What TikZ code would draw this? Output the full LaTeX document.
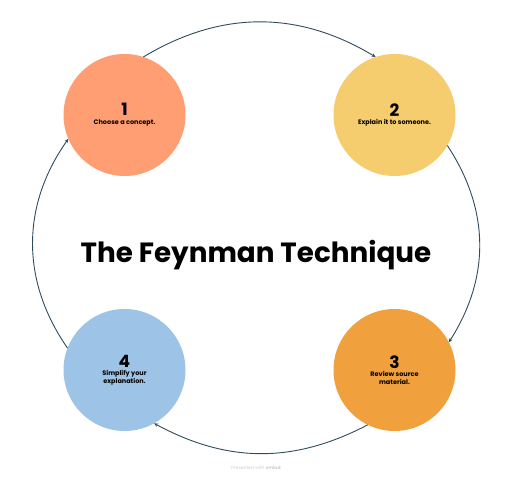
\documentclass[tikz,border=0pt]{standalone}
\usepackage{fontspec}
\setmainfont{Poppins}
\usetikzlibrary{positioning}
\usetikzlibrary{arrows.meta}
\definecolor{stepone}{HTML}{FF9E72}
\definecolor{steptwo}{HTML}{F5CD6E}
\definecolor{stepthree}{HTML}{F0A03C}
\definecolor{stepfour}{HTML}{9DC3E6}
\definecolor{arcline}{HTML}{2F4B5C}
\tikzset{x=1pt, y=1pt, node distance=148pt, >={Stealth[length=4pt,width=3.5pt]}}
\tikzset{stepnode/.style={circle, minimum size=122pt, inner sep=0pt, outer sep=0pt, align=center, font=\fontsize{6.5}{7.7}\selectfont\bfseries}}
\tikzset{flow/.style={draw=arcline, line width=0.9pt, ->}}
\newcommand{\stepnum}[1]{{\fontsize{17}{17}\selectfont\bfseries #1}\\[1pt]}

\begin{document}
\begin{tikzpicture}
    \useasboundingbox (0,0) rectangle (512,478);
    \node [stepnode, fill=stepone] (c1) at (124.5,363) {\stepnum{1}Choose a concept.};
    \node [stepnode, fill=steptwo, right=148pt of c1] (c2) {\stepnum{2}Explain it to someone.};
    \node [stepnode, fill=stepthree, below=133pt of c2] (c3) {\stepnum{3}Review source\\material.};
    \node [stepnode, fill=stepfour, left=148pt of c3] (c4) {\stepnum{4}Simplify your\\explanation.};
    \node [anchor=base, font=\fontsize{27.8}{28}\selectfont\bfseries] (title) at (256,215) {The Feynman Technique};
    \node [font=\fontsize{4.5}{4.5}\selectfont, text=black!20] (credit) at (256,10) {Presented with \textbf{xmind}};

    \draw [flow] (c1.72) to [bend left=31] (c2.108);
    \draw [flow] (c2.-30) to [bend left=33] (c3.27);
    \draw [flow] (c3.244) to [bend left=28] (c4.-61);
    \draw [flow] (c4.159) to [bend left=35] (c1.203);
\end{tikzpicture}
\end{document}
